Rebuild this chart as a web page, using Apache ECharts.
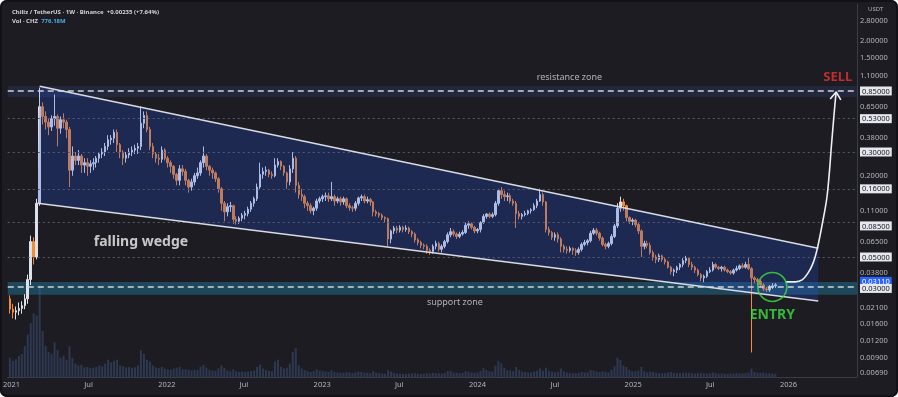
<!DOCTYPE html>
<html>
<head>
<meta charset="utf-8">
<script src="https://cdn.jsdelivr.net/npm/echarts@6/dist/echarts.min.js"></script>
<style>
  html, body { margin: 0; padding: 0; background: #ffffff; }
  #chart {
    width: 898px; height: 397px; background: #1d1c23;
    border-radius: 7px; overflow: hidden;
    box-shadow: inset 0 0 0 2px #121117;
  }
</style>
</head>
<body>
<div id="chart"></div>
<script>
/* global echarts */
const firstWeek = '2020-12-28';

// weekly candles: [open, close, low, high]
const candles = [
  [.0245,.0205,.019,.026],[.0205,.0195,.0175,.0225],[.0195,.0200,.0172,.0215],[.0200,.0208,.0185,.0230],[.0208,.0218,.0190,.0235],
  [.0218,.0245,.0205,.0265],[.0245,.0340,.0225,.0370],[.0340,.0650,.0310,.0720],[.0650,.0500,.0440,.0700],[.0500,.1250,.0480,.1350],
  [.125,.65,.12,.90],[.65,.55,.48,.70],[.55,.50,.44,.60],[.50,.46,.40,.53],[.46,.53,.43,.56],
  [.53,.55,.47,.80],[.55,.45,.33,.57],[.45,.52,.41,.55],[.52,.50,.45,.58],[.50,.44,.38,.52],
  [.44,.22,.165,.46],[.22,.28,.20,.33],[.28,.26,.24,.30],[.26,.28,.24,.31],[.28,.24,.21,.29],
  [.24,.25,.21,.27],[.25,.235,.20,.27],[.235,.245,.21,.26],[.245,.25,.22,.27],[.25,.27,.23,.28],
  [.27,.29,.25,.30],[.29,.30,.27,.32],[.30,.33,.28,.35],[.33,.37,.31,.40],[.37,.38,.34,.40],
  [.38,.42,.35,.44],[.42,.34,.30,.44],[.34,.30,.27,.35],[.30,.27,.24,.31],[.27,.285,.25,.30],
  [.285,.30,.27,.32],[.30,.31,.28,.33],[.31,.32,.29,.34],[.32,.33,.29,.35],[.33,.49,.31,.65],
  [.49,.56,.45,.60],[.56,.44,.42,.60],[.44,.33,.31,.46],[.33,.29,.27,.35],[.29,.27,.25,.30],
  [.27,.265,.24,.29],[.265,.31,.25,.33],[.31,.27,.26,.32],[.27,.25,.23,.28],[.25,.235,.21,.26],
  [.235,.205,.19,.24],[.205,.185,.17,.21],[.185,.225,.17,.24],[.225,.215,.20,.24],[.215,.185,.17,.225],
  [.185,.165,.15,.19],[.165,.18,.155,.19],[.18,.20,.17,.21],[.20,.21,.19,.23],[.21,.25,.20,.26],
  [.25,.28,.23,.33],[.28,.235,.22,.29],[.235,.22,.20,.24],[.22,.21,.19,.23],[.21,.19,.18,.215],
  [.19,.16,.15,.195],[.16,.125,.11,.165],[.125,.108,.092,.13],[.108,.118,.10,.125],[.118,.12,.108,.128],
  [.12,.095,.088,.122],[.095,.092,.087,.10],[.092,.097,.088,.10],[.097,.102,.092,.106],[.102,.105,.095,.11],
  [.105,.113,.10,.118],[.113,.125,.108,.13],[.125,.135,.118,.14],[.135,.165,.13,.175],[.165,.205,.16,.25],
  [.205,.215,.19,.23],[.215,.22,.20,.235],[.22,.205,.195,.225],[.205,.20,.19,.215],[.20,.24,.195,.27],
  [.24,.255,.23,.27],[.255,.235,.22,.26],[.235,.21,.20,.24],[.21,.18,.16,.215],[.18,.225,.17,.24],
  [.225,.27,.21,.30],[.27,.17,.15,.28],[.17,.145,.135,.18],[.145,.14,.13,.16],[.14,.125,.115,.145],
  [.125,.12,.11,.13],[.12,.11,.105,.125],[.11,.115,.102,.118],[.115,.13,.11,.135],[.13,.135,.125,.14],
  [.135,.14,.128,.145],[.14,.142,.13,.15],[.142,.135,.128,.15],[.135,.14,.13,.18],[.14,.13,.12,.145],
  [.13,.135,.125,.14],[.135,.128,.12,.14],[.128,.135,.122,.14],[.135,.12,.115,.138],[.12,.116,.11,.125],
  [.116,.115,.108,.12],[.115,.125,.11,.13],[.125,.137,.12,.14],[.137,.14,.13,.145],[.14,.13,.125,.145],
  [.13,.133,.125,.14],[.133,.128,.12,.137],[.128,.108,.10,.13],[.108,.105,.10,.112],[.105,.102,.098,.108],
  [.102,.098,.094,.105],[.098,.096,.09,.10],[.096,.068,.06,.098],[.068,.078,.063,.08],[.078,.082,.074,.085],
  [.082,.079,.075,.085],[.079,.083,.076,.086],[.083,.08,.076,.085],[.08,.082,.077,.086],[.082,.077,.074,.084],
  [.077,.074,.07,.079],[.074,.067,.064,.076],[.067,.064,.061,.069],[.064,.061,.058,.066],[.061,.06,.057,.063],
  [.06,.056,.053,.062],[.056,.055,.052,.058],[.055,.06,.053,.062],[.06,.063,.057,.066],[.063,.057,.055,.065],
  [.057,.06,.054,.062],[.06,.065,.058,.067],[.065,.073,.063,.076],[.073,.077,.07,.082],[.077,.074,.071,.08],
  [.074,.071,.068,.076],[.071,.074,.069,.077],[.074,.076,.072,.079],[.076,.086,.074,.09],[.086,.088,.081,.092],
  [.088,.083,.08,.09],[.083,.078,.075,.085],[.078,.08,.075,.082],[.08,.09,.076,.092],[.09,.10,.088,.104],
  [.10,.104,.096,.106],[.104,.10,.097,.107],[.10,.103,.097,.107],[.103,.125,.10,.13],[.125,.155,.12,.16],
  [.155,.145,.135,.165],[.145,.14,.13,.155],[.14,.142,.13,.15],[.142,.13,.125,.148],[.13,.125,.12,.135],
  [.125,.105,.082,.13],[.105,.10,.095,.11],[.10,.103,.095,.106],[.103,.105,.10,.11],[.105,.11,.102,.112],
  [.11,.112,.105,.115],[.112,.12,.11,.125],[.12,.13,.115,.135],[.13,.145,.128,.16],[.145,.128,.12,.15],
  [.128,.08,.076,.13],[.08,.076,.072,.084],[.076,.07,.067,.078],[.07,.073,.066,.076],[.073,.068,.064,.076],
  [.068,.06,.054,.07],[.06,.057,.054,.062],[.057,.056,.053,.06],[.056,.058,.054,.06],[.058,.056,.052,.059],
  [.056,.054,.051,.058],[.054,.057,.052,.059],[.057,.062,.055,.064],[.062,.064,.06,.067],[.064,.066,.061,.068],
  [.066,.075,.064,.078],[.075,.079,.073,.082],[.079,.075,.072,.082],[.075,.069,.066,.077],[.069,.062,.06,.071],
  [.062,.06,.057,.064],[.06,.063,.058,.065],[.063,.071,.061,.074],[.071,.085,.069,.088],[.085,.115,.082,.125],
  [.115,.128,.108,.14],[.128,.12,.11,.135],[.12,.098,.092,.122],[.098,.092,.088,.10],[.092,.094,.086,.097],
  [.094,.087,.083,.096],[.087,.078,.074,.09],[.078,.06,.05,.08],[.06,.063,.057,.066],[.063,.061,.058,.066],
  [.061,.054,.052,.064],[.054,.05,.047,.056],[.05,.048,.045,.052],[.048,.051,.046,.053],[.051,.048,.046,.052],
  [.048,.046,.044,.05],[.046,.042,.041,.047],[.042,.039,.037,.043],[.039,.04,.036,.041],[.04,.042,.038,.043],
  [.042,.044,.04,.045],[.044,.047,.042,.049],[.047,.049,.045,.051],[.049,.044,.042,.05],[.044,.042,.04,.046],
  [.042,.04,.038,.043],[.04,.037,.036,.041],[.037,.035,.033,.038],[.035,.036,.0325,.037],[.036,.039,.035,.04],
  [.039,.04,.038,.042],[.04,.044,.039,.046],[.044,.042,.041,.045],[.042,.041,.04,.043],[.041,.042,.039,.043],
  [.042,.04,.039,.043],[.04,.039,.038,.041],[.039,.038,.037,.04],[.038,.04,.037,.041],[.04,.041,.039,.043],
  [.041,.043,.04,.044],[.043,.042,.041,.045],[.042,.044,.041,.046],[.044,.041,.04,.049],[.041,.035,.0098,.042],
  [.035,.034,.032,.036],[.034,.033,.031,.035],[.033,.031,.03,.034],[.031,.029,.028,.032],[.029,.0285,.0275,.03],
  [.0285,.03,.0275,.031],[.03,.0305,.029,.032],[.0305,.0311,.0295,.032]
];

// weekly volume, millions of CHZ
const volumes = [
  5000,4200,4600,5500,6000,8000,11000,14000,16500,16000,
  24000,12000,8000,6500,6000,9000,7000,5000,5500,4500,
  8000,5000,3500,3000,3200,2500,2600,2300,2400,2600,
  3000,2800,3500,4500,3800,4200,4500,3000,2800,2500,
  2600,2400,2500,3000,7000,6000,4500,4000,3000,2500,
  2300,2600,2200,2000,1900,2200,2400,2600,2000,2000,
  1900,1700,1900,1800,2600,3200,2400,1800,1700,1600,
  2200,3000,2400,1700,1500,2000,1500,1300,1400,1300,
  1400,1600,1700,2600,3200,2200,1800,1600,1500,4000,
  4500,2600,2200,2400,3500,6500,7500,3000,2200,1800,
  1500,1300,1600,2000,1700,1500,1400,1300,1800,1300,
  1200,1100,1100,1300,1200,1000,1200,1400,1300,1100,
  1100,1000,1500,1100,1000,900,900,1800,1400,1100,
  900,900,800,800,900,900,1000,900,800,900,
  1000,900,1100,1000,1000,900,1100,1500,1600,1200,
  1100,1000,1100,1500,1400,1200,1100,1200,1600,2400,
  1800,1500,1400,3000,4200,3600,2400,1800,1700,1500,
  2600,1800,1400,1300,1200,1200,1400,1600,2200,1600,
  2400,1600,1400,1200,1300,2200,1500,1200,1100,1000,
  1000,1100,1300,1200,1200,1800,1700,1400,1300,1500,
  1300,1200,1900,2800,5000,4400,3000,2600,1800,1500,
  1500,1700,2600,1500,1200,1400,1300,1100,1000,1000,
  1000,1200,1300,1100,1000,1000,1100,1200,1100,1000,
  900,1000,1100,1000,900,1000,1200,1000,900,900,
  900,800,900,900,1000,1000,900,1000,1100,2200,
  1300,1100,1100,1200,1000,1000,900,800
];

const priceTicks = [2.8, 2, 1.5, 1.1, 0.85, 0.65, 0.53, 0.38, 0.3, 0.2, 0.16, 0.11, 0.085,
  0.065, 0.05, 0.038, 0.0311, 0.03, 0.021, 0.016, 0.012, 0.009, 0.0069];
const boxedLevels = [0.85, 0.53, 0.3, 0.16, 0.085, 0.05, 0.03];
const lastPrice = 0.0311;
const dottedLevels = [0.53, 0.3, 0.16, 0.085, 0.05];
const dashedLevels = [0.85, 0.03];
const resistanceZone = [0.765, 0.925];
const supportZone = [0.0263, 0.0327];

const timeTicks = ['2021-01-01', '2021-07-01', '2022-01-01', '2022-07-01', '2023-01-01', '2023-07-01',
  '2024-01-01', '2024-07-01', '2025-01-01', '2025-07-01', '2026-01-01'];

// drawings, in (date, price)
const wedgeUpper = [['2021-03-08', 0.92], ['2026-03-12', 0.058]];
const wedgeLower = [['2021-03-03', 0.125], ['2026-03-12', 0.0236]];
const arrowCurve = [
  ['2025-12-25', 0.0327], ['2026-01-17', 0.0327], ['2026-02-02', 0.0338], ['2026-02-16', 0.0381],
  ['2026-02-28', 0.0452], ['2026-03-09', 0.0564], ['2026-03-21', 0.0864], ['2026-04-02', 0.144],
  ['2026-04-13', 0.368], ['2026-04-20', 0.669], ['2026-04-23', 0.836]
];
const arrowHead = [['2026-04-09', 0.741], ['2026-04-23', 0.836], ['2026-05-04', 0.731]];
const entryPoint = ['2025-11-24', 0.030];
const notes = [
  { at: ['2021-11-01', 0.0646], text: 'falling wedge', size: 14, weight: 'bold', color: '#f2f2f2' },
  { at: ['2024-08-04', 1.08], text: 'resistance zone', size: 9, weight: 'normal', color: '#d4d4d8' },
  { at: ['2023-11-09', 0.0232], text: 'support zone', size: 9, weight: 'normal', color: '#d4d4d8' },
  { at: ['2026-04-27', 1.08], text: 'SELL', size: 13, weight: 'bold', color: '#e8322f' }
];

const DAY = 86400000;
const ts = s => new Date(s + 'T00:00:00Z').getTime();
const t0 = ts(firstWeek);
const weekTime = i => t0 + i * 7 * DAY;
const pt = p => [ts(p[0]), p[1]];
const near = (a, b) => Math.abs(a - b) / b < 1e-6;

const FONT = 'Noto Sans';
const chart = echarts.init(document.getElementById('chart'));

const option = {
  animation: false,
  title: {
    left: 7, top: 3,
    text: '{a|Chiliz / TetherUS · 1W · Binance  +0.00235 (+7.64%)}\n{a|Vol · CHZ  }{b|776.18M}',
    textStyle: {
      fontSize: 6, lineHeight: 9, fontFamily: FONT, color: '#d1d4dc',
      rich: {
        a: { color: '#d1d4dc', fontSize: 6, fontFamily: FONT, lineHeight: 9 },
        b: { color: '#4aa8e0', fontSize: 6, fontFamily: FONT, lineHeight: 9 }
      }
    }
  },
  graphic: [{
    type: 'text', left: 868, top: 6,
    style: { text: 'USDT', fill: '#b2b5be', font: '6px "Noto Sans"' }
  }],
  grid: { left: 3, right: 41, top: 4, bottom: 20 },
  xAxis: {
    // dates kept as epoch ms on a plain value axis
    type: 'value',
    min: ts('2020-12-23'),
    max: ts('2026-06-11'),
    axisLine: { lineStyle: { color: '#3a3d48' } },
    axisTick: { show: false },
    splitLine: { show: false },
    axisLabel: {
      customValues: timeTicks.map(ts),
      color: '#b2b5be', fontSize: 7.5, fontFamily: FONT, margin: 4,
      formatter: v => {
        const d = new Date(v);
        return d.getUTCMonth() === 0 ? String(d.getUTCFullYear()) : 'Jul';
      }
    }
  },
  yAxis: [{
    type: 'log',
    position: 'right',
    min: 0.00645,
    max: 3.75,
    axisLine: { show: true, lineStyle: { color: '#3a3d48' } },
    axisTick: { show: false },
    splitLine: { show: false },
    axisLabel: {
      customValues: priceTicks,
      margin: 3,
      color: '#b2b5be', fontSize: 7.5, fontFamily: FONT,
      formatter: v => {
        const txt = v.toFixed(5);
        if (near(v, lastPrice)) return '{cur|' + txt + '}\n{gap| }';
        if (near(v, 0.03)) return '{gap2| }\n{box|' + txt + '}';
        if (boxedLevels.some(b => near(v, b))) return '{box|' + txt + '}';
        return txt;
      },
      rich: {
        box: { backgroundColor: '#e6e8ee', color: '#131722', padding: [1, 2, 0, 2], fontSize: 7.5, fontFamily: FONT },
        cur: { backgroundColor: '#2962ff', color: '#ffffff', padding: [1, 2, 0, 2], fontSize: 7.5, fontFamily: FONT },
        gap: { fontSize: 1, height: 7 },
        gap2: { fontSize: 1, height: 3 }
      }
    }
  }, {
    type: 'value', min: 0, max: 97000, show: false
  }],
  series: [
    {
      name: 'Volume', type: 'bar', yAxisIndex: 1, barWidth: 2, z: 1, silent: true,
      itemStyle: { color: 'rgba(70,96,145,0.42)' },
      data: volumes.map((v, i) => [weekTime(i), v])
    },
    {
      name: 'CHZUSDT', type: 'candlestick', barWidth: 2, z: 2, silent: true,
      itemStyle: {
        color: '#dde2ea', borderColor: '#dde2ea',
        color0: '#f68a34', borderColor0: '#f68a34', borderWidth: 1
      },
      data: candles.map((c, i) => [weekTime(i), c[0], c[1], c[2], c[3]])
    },
    {
      name: 'levels', type: 'line', data: [], z: 3, silent: true,
      markArea: {
        silent: true, label: { show: false },
        data: [
          [{ yAxis: resistanceZone[0], itemStyle: { color: 'rgba(70,100,190,0.16)' } }, { yAxis: resistanceZone[1] }],
          [{ yAxis: supportZone[0], itemStyle: { color: 'rgba(35,150,190,0.36)' } }, { yAxis: supportZone[1] }]
        ]
      }
    },
    {
      name: 'wedge', type: 'custom', z: 4, silent: true,
      data: [wedgeUpper[0], wedgeUpper[1], wedgeLower[1], wedgeLower[0]].map(pt),
      renderItem: (params, api) => {
        if (params.dataIndex !== 0) return null;
        const pts = [wedgeUpper[0], wedgeUpper[1], wedgeLower[1], wedgeLower[0]].map(p => api.coord(pt(p)));
        return { type: 'polygon', shape: { points: pts }, style: { fill: 'rgba(36,80,215,0.26)' } };
      }
    },
    {
      name: 'grid lines', type: 'line', data: [], z: 5, silent: true,
      markLine: {
        silent: true, symbol: ['none', 'none'], label: { show: false },
        data: dottedLevels.map(v => ({ yAxis: v, lineStyle: { color: '#555a68', width: 1, type: [2, 3] } }))
          .concat(dashedLevels.map(v => ({ yAxis: v, lineStyle: { color: '#cfd3dc', width: 1.5, type: [6, 4] } })))
      }
    },
    {
      name: 'upper', type: 'line', z: 6, silent: true, symbol: 'none',
      lineStyle: { color: '#d8dbe2', width: 1.6 },
      data: wedgeUpper.map(pt)
    },
    {
      name: 'lower', type: 'line', z: 6, silent: true, symbol: 'none',
      lineStyle: { color: '#d8dbe2', width: 1.6 },
      data: wedgeLower.map(pt)
    },
    {
      name: 'arrow', type: 'line', z: 7, silent: true, symbol: 'none', smooth: 0.35,
      lineStyle: { color: '#eef0f4', width: 1.6 },
      data: arrowCurve.map(pt)
    },
    {
      name: 'arrow head', type: 'line', z: 7, silent: true, symbol: 'none',
      lineStyle: { color: '#eef0f4', width: 1.6 },
      data: arrowHead.map(pt)
    },
    {
      name: 'entry', type: 'scatter', z: 8, silent: true,
      symbol: 'circle', symbolSize: 29,
      itemStyle: { color: 'rgba(0,0,0,0)', borderColor: '#3ddf3d', borderWidth: 1.6 },
      label: {
        show: true, position: 'bottom', distance: 6, formatter: 'ENTRY',
        color: '#3ddf3d', fontSize: 14, fontWeight: 'bold', fontFamily: FONT
      },
      data: [pt(entryPoint)]
    },
    {
      name: 'notes', type: 'scatter', z: 9, silent: true,
      symbolSize: 1, itemStyle: { color: 'rgba(0,0,0,0)' },
      data: notes.map(n => ({
        value: pt(n.at),
        label: {
          show: true, position: 'inside', formatter: n.text,
          color: n.color, fontSize: n.size, fontWeight: n.weight, fontFamily: FONT
        }
      }))
    }
  ]
};

chart.setOption(option);
</script>
</body>
</html>
